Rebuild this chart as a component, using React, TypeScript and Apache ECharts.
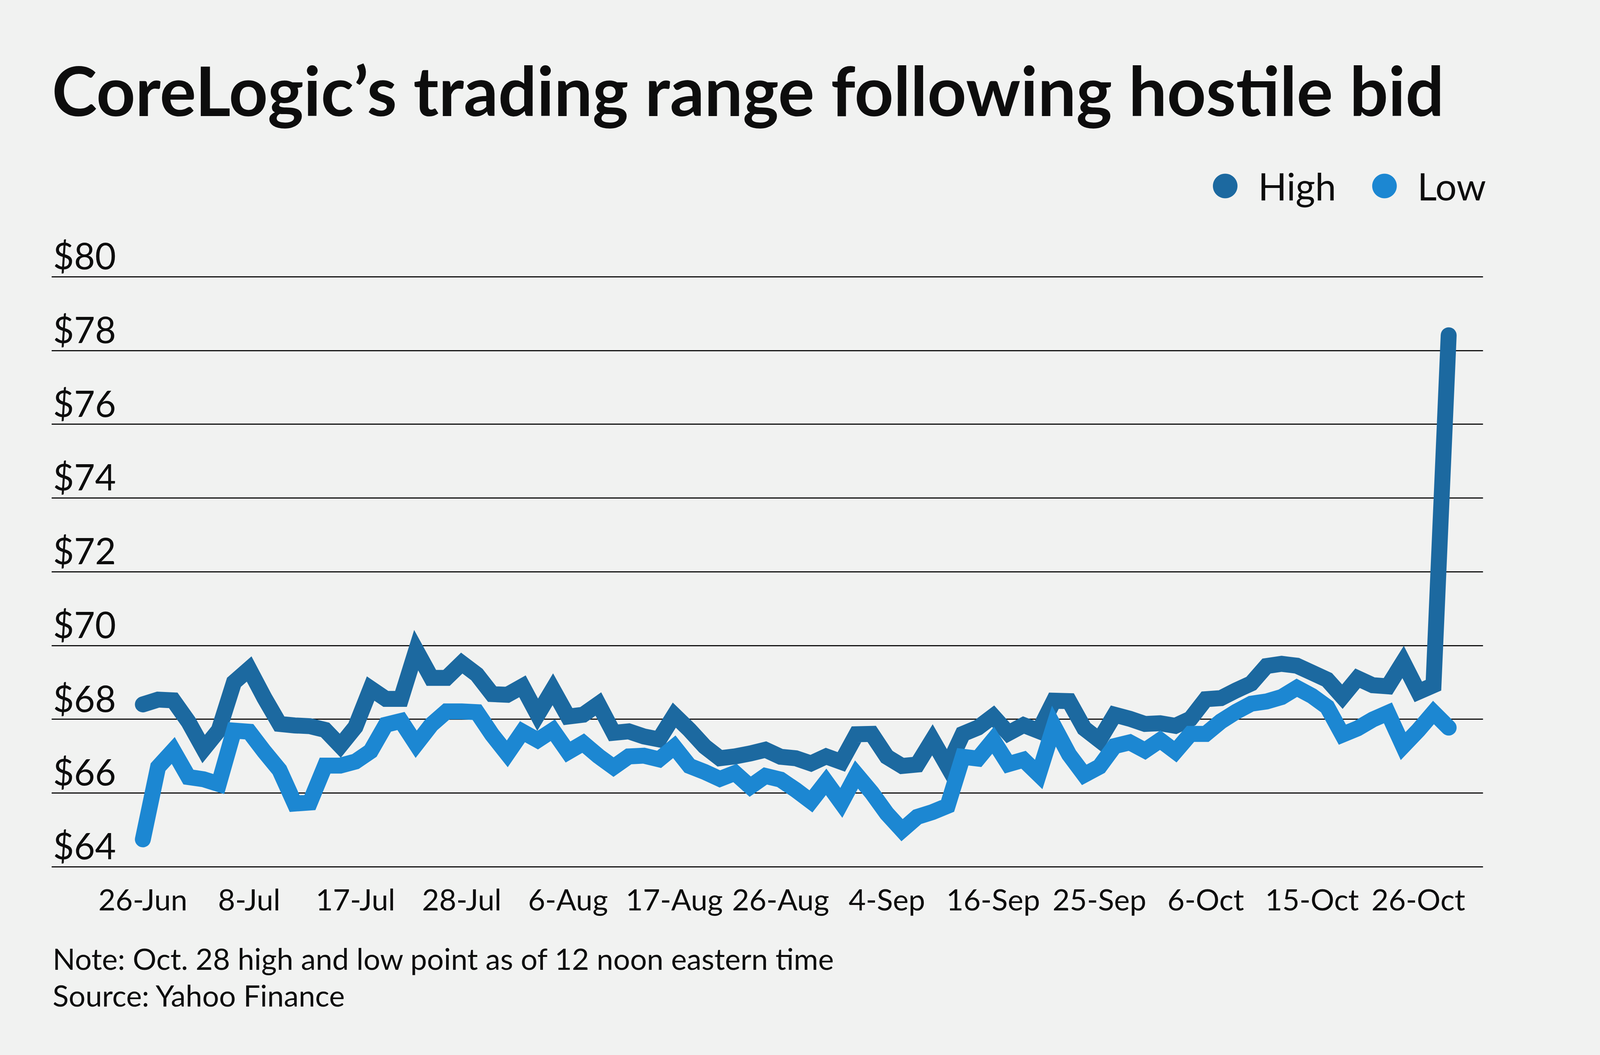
import React, { useEffect, useRef } from 'react';
import * as echarts from 'echarts';

// trading days, 26 Jun 2020 – 28 Oct 2020
const dates = [
  '26-Jun', '29-Jun', '30-Jun',
  '1-Jul', '2-Jul', '6-Jul', '7-Jul', '8-Jul', '9-Jul', '10-Jul', '13-Jul', '14-Jul', '15-Jul', '16-Jul', '17-Jul',
  '20-Jul', '21-Jul', '22-Jul', '23-Jul', '24-Jul', '27-Jul', '28-Jul', '29-Jul', '30-Jul', '31-Jul',
  '3-Aug', '4-Aug', '5-Aug', '6-Aug', '7-Aug', '10-Aug', '11-Aug', '12-Aug', '13-Aug', '14-Aug',
  '17-Aug', '18-Aug', '19-Aug', '20-Aug', '21-Aug', '24-Aug', '25-Aug', '26-Aug', '27-Aug', '28-Aug', '31-Aug',
  '1-Sep', '2-Sep', '3-Sep', '4-Sep', '8-Sep', '9-Sep', '10-Sep', '11-Sep', '14-Sep', '15-Sep', '16-Sep',
  '17-Sep', '18-Sep', '21-Sep', '22-Sep', '23-Sep', '24-Sep', '25-Sep', '28-Sep', '29-Sep', '30-Sep',
  '1-Oct', '2-Oct', '5-Oct', '6-Oct', '7-Oct', '8-Oct', '9-Oct', '12-Oct', '13-Oct', '14-Oct', '15-Oct',
  '16-Oct', '19-Oct', '20-Oct', '21-Oct', '22-Oct', '23-Oct', '26-Oct', '27-Oct', '28-Oct',
];

const high = [
  68.40, 68.53, 68.51, 67.93, 67.19, 67.70, 69.00, 69.36, 68.58, 67.87,
  67.83, 67.81, 67.71, 67.28, 67.79, 68.83, 68.55, 68.55, 69.87, 69.12,
  69.12, 69.52, 69.21, 68.68, 68.66, 68.89, 68.12, 68.81, 68.07, 68.12,
  68.41, 67.63, 67.67, 67.53, 67.45, 68.11, 67.71, 67.26, 66.94, 66.99,
  67.07, 67.17, 66.98, 66.94, 66.80, 66.99, 66.84, 67.59, 67.60, 66.98,
  66.73, 66.77, 67.44, 66.72, 67.60, 67.77, 68.08, 67.62, 67.84, 67.68,
  68.50, 68.49, 67.75, 67.43, 68.12, 68.01, 67.87, 67.89, 67.82, 68.01,
  68.54, 68.57, 68.78, 68.97, 69.44, 69.50, 69.45, 69.26, 69.07, 68.61,
  69.11, 68.92, 68.89, 69.55, 68.74, 68.92, 78.41,
];

const low = [
  64.74, 66.70, 67.15, 66.43, 66.37, 66.24, 67.69, 67.66, 67.12, 66.62,
  65.71, 65.74, 66.74, 66.74, 66.85, 67.13, 67.85, 67.95, 67.32, 67.85,
  68.21, 68.21, 68.19, 67.58, 67.06, 67.66, 67.43, 67.70, 67.11, 67.35,
  67.00, 66.70, 66.99, 67.01, 66.91, 67.25, 66.73, 66.57, 66.38, 66.54,
  66.17, 66.46, 66.36, 66.08, 65.77, 66.30, 65.73, 66.50, 66.01, 65.44,
  64.99, 65.35, 65.48, 65.65, 66.98, 66.93, 67.43, 66.78, 66.90, 66.50,
  67.81, 67.04, 66.49, 66.71, 67.27, 67.37, 67.15, 67.43, 67.12, 67.60,
  67.60, 67.94, 68.20, 68.42, 68.48, 68.60, 68.85, 68.63, 68.33, 67.58,
  67.75, 67.99, 68.17, 67.27, 67.70, 68.18, 67.77,
];

const yMin = 64;
const yMax = 80;
const yStep = 2;

const FONT = 'Lato, "Open Sans", sans-serif';
const HIGH_COLOR = '#1c69a0';
const LOW_COLOR = '#1c87d2';
const TEXT_COLOR = '#0d0d0d';

// layout was measured on a 4800x2700 canvas; scale it to whatever the div gets
const BASE_W = 4800;
const BASE_H = 2700;

const App: React.FC = () => {
  const chartRef = useRef<HTMLDivElement>(null);

  useEffect(() => {
    if (!chartRef.current) return;
    const el = chartRef.current;
    const chart = echarts.init(el, undefined, { renderer: 'svg' });

    const sx = el.clientWidth / BASE_W;
    const sy = el.clientHeight / BASE_H;
    const X = (v: number) => v * sx;
    const Y = (v: number) => v * sy;
    const F = (v: number) => v * Math.min(1, (sx + sy) / 2);

    const option: echarts.EChartsOption = {
      animation: false,
      backgroundColor: '#f1f2f1',
      title: {
        text: 'CoreLogic\u2019s trading range following hostile bid',
        left: X(156),
        top: Y(142),
        padding: 0,
        textStyle: { fontFamily: FONT, fontWeight: 'bold', fontSize: F(188), color: TEXT_COLOR },
      },
      legend: {
        data: ['High', 'Low'],
        right: X(342),
        top: Y(428),
        icon: 'circle',
        itemWidth: F(68),
        itemHeight: F(68),
        itemGap: X(108),
        padding: 0,
        textStyle: { fontFamily: FONT, fontSize: F(104), color: TEXT_COLOR, padding: [0, 0, 0, X(56)] },
      },
      grid: [
        // grid 0: gridlines and $ labels
        { left: X(155), right: X(351), top: Y(708), bottom: Y(482) },
        // grid 1: the two lines and the dates
        { left: X(428.6), right: X(454), top: Y(708), bottom: Y(482) },
      ],
      xAxis: [
        {
          gridIndex: 0,
          type: 'category',
          data: dates,
          show: false,
        },
        {
          gridIndex: 1,
          type: 'category',
          data: dates,
          boundaryGap: false,
          axisLine: { show: false },
          axisTick: { show: false },
          splitLine: { show: false },
          axisLabel: {
            interval: 6,
            margin: Y(44),
            fontFamily: FONT,
            fontSize: F(82),
            color: TEXT_COLOR,
          },
        },
      ],
      yAxis: [
        {
          gridIndex: 0,
          type: 'value',
          min: yMin,
          max: yMax,
          interval: yStep,
          axisLine: { show: false },
          axisTick: { show: false },
          splitLine: { show: true, lineStyle: { color: '#111', width: 3 } },
          axisLabel: {
            inside: true,
            margin: X(4),
            verticalAlign: 'bottom',
            align: 'left',
            padding: [0, 0, Y(8), 0],
            fontFamily: FONT,
            fontSize: F(100),
            color: TEXT_COLOR,
            formatter: (v: number) => `$${v}`,
          },
        },
        {
          gridIndex: 1,
          type: 'value',
          min: yMin,
          max: yMax,
          interval: yStep,
          show: false,
          splitLine: { show: false },
        },
      ],
      series: [
        {
          name: 'High',
          type: 'line',
          xAxisIndex: 1,
          yAxisIndex: 1,
          data: high,
          showSymbol: false,
          itemStyle: { color: HIGH_COLOR },
          lineStyle: { color: HIGH_COLOR, width: F(44), cap: 'round', join: 'miter' },
        },
        {
          name: 'Low',
          type: 'line',
          xAxisIndex: 1,
          yAxisIndex: 1,
          data: low,
          showSymbol: false,
          itemStyle: { color: LOW_COLOR },
          lineStyle: { color: LOW_COLOR, width: F(44), cap: 'round', join: 'miter' },
        },
      ],
      graphic: [
        {
          type: 'text',
          left: X(158),
          top: Y(2414),
          style: {
            text: 'Note: Oct. 28 high and low point as of 12 noon eastern time',
            font: `${F(82)}px ${FONT}`,
            fill: TEXT_COLOR,
          },
        },
        {
          type: 'text',
          left: X(158),
          top: Y(2508),
          style: {
            text: 'Source: Yahoo Finance',
            font: `${F(82)}px ${FONT}`,
            fill: TEXT_COLOR,
          },
        },
      ],
    };

    chart.setOption(option);
    return () => chart.dispose();
  }, []);

  return (
    <div
      ref={chartRef}
      style={{ position: 'fixed', left: 0, top: 0, width: '100vw', height: '100vh' }}
    />
  );
};

export default App;
